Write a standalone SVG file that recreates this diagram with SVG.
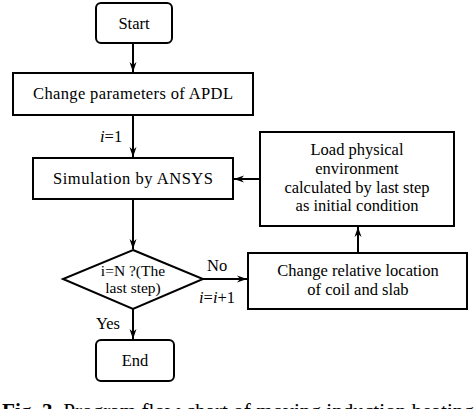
<svg xmlns="http://www.w3.org/2000/svg" width="474" height="409" viewBox="0 0 474 409">
<defs>
<marker id="ah" viewBox="0 0 10 10" refX="10" refY="5" markerWidth="10" markerHeight="10" markerUnits="userSpaceOnUse" orient="auto">
<path d="M0,1.5 L10,5 L0,8.5 L3,5 Z" fill="#000"/>
</marker>
</defs>
<style>
text{font-family:'Liberation Serif','Times New Roman',serif;fill:#000}
.b{fill:#fff;stroke:#000;stroke-width:2}
.t{font-size:16.5px;text-anchor:middle}
.d{font-size:15.5px;text-anchor:middle}
.l{font-size:16.5px}
.c{fill:none;stroke:#000;stroke-width:2}
</style>
<rect width="474" height="409" fill="#fff"/>
<g id="connectors">
<line class="c" x1="133" y1="43" x2="133" y2="72" marker-end="url(#ah)"/>
<line class="c" x1="133" y1="115" x2="133" y2="157" marker-end="url(#ah)"/>
<line class="c" x1="133" y1="199" x2="133" y2="249" marker-end="url(#ah)"/>
<line class="c" x1="133" y1="309" x2="133" y2="339" marker-end="url(#ah)"/>
<line class="c" x1="203" y1="279" x2="247" y2="279" marker-end="url(#ah)"/>
<line class="c" x1="358" y1="253" x2="358" y2="227" marker-end="url(#ah)"/>
<line class="c" x1="260" y1="179" x2="234" y2="179" marker-end="url(#ah)"/>
<text class="l" x="100" y="142"><tspan font-style="italic">i</tspan>=1</text>
<text class="l" x="207" y="271">No</text>
<text class="l" x="199" y="303"><tspan font-style="italic">i</tspan>=<tspan font-style="italic">i</tspan>+1</text>
<text class="l" x="96" y="329">Yes</text>
</g>
<g id="start">
<rect class="b" x="96" y="3" width="76" height="40" rx="5"/>
<text class="t" x="134" y="29">Start</text>
</g>
<g id="change-params">
<rect class="b" x="13" y="73" width="240" height="42"/>
<text class="t" x="133" y="99" textLength="200">Change parameters of APDL</text>
</g>
<g id="simulation">
<rect class="b" x="33" y="158" width="200" height="41"/>
<text class="t" x="133" y="184" textLength="160">Simulation by ANSYS</text>
</g>
<g id="decision">
<polygon class="b" points="133,250 203,279 133,309 63,279"/>
<text class="d" x="133" y="276">i=N ?(The</text>
<text class="d" x="133" y="293">last step)</text>
</g>
<g id="end">
<rect class="b" x="96" y="340" width="78" height="41" rx="5"/>
<text class="t" x="135" y="366">End</text>
</g>
<g id="change-location">
<rect class="b" x="248" y="253" width="219" height="56"/>
<text class="t" x="358" y="276">Change relative location</text>
<text class="t" x="358" y="295">of coil and slab</text>
</g>
<g id="load-env">
<rect class="b" x="260" y="132" width="194" height="94"/>
<text class="t" x="357" y="155">Load physical</text>
<text class="t" x="357" y="174">environment</text>
<text class="t" x="357" y="193">calculated by last step</text>
<text class="t" x="357" y="211">as initial condition</text>
</g>
<g id="caption">
<text x="2" y="418" font-size="21" textLength="472" lengthAdjust="spacingAndGlyphs"><tspan font-weight="bold">Fig. 3.</tspan> Program flow chart of moving induction heating</text>
</g>
</svg>
